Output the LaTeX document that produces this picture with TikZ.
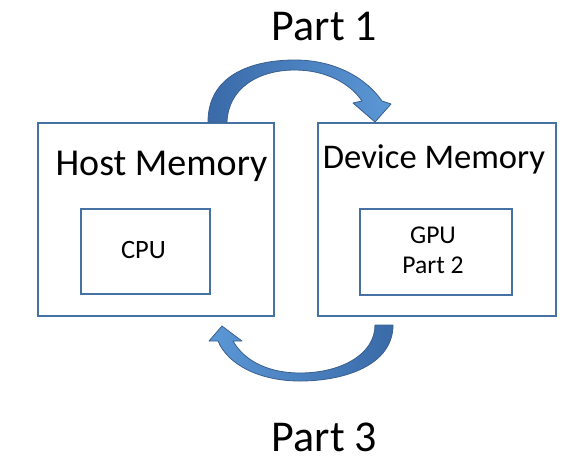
\documentclass[tikz,border=0pt]{standalone}
\usepackage{fontspec}
\setmainfont{Carlito}
\definecolor{boxblue}{HTML}{4672A3}
\definecolor{arrdark}{HTML}{3A6AA8}
\definecolor{arrlight}{HTML}{5B97D6}
\definecolor{arredge}{HTML}{3A5F8E}
\begin{document}
\begin{tikzpicture}[x=1pt,y=-1pt,
  boxline/.style={draw=boxblue,line width=2.2pt,inner sep=0pt},
  blockarrow/.style={draw=arredge,line width=0.8pt,line join=round},
  lbl/.style={anchor=base,inner sep=0pt,text=black}]
\useasboundingbox (0,0) rectangle (586,467);
% boxes
\node[boxline,anchor=north west,minimum width=236pt,minimum height=193pt] (host) at (37,122) {};
\node[boxline,anchor=north west,minimum width=238pt,minimum height=193pt] (device) at (317,122) {};
\node[boxline,anchor=north west,minimum width=129pt,minimum height=85pt] (cpu) at (80,208) {};
\node[boxline,anchor=north west,minimum width=152pt,minimum height=86pt] (gpu) at (359,208) {};
% labels
\node[lbl,font=\fontsize{38}{40}\selectfont] (hostlbl) at (161.5,175) {Host Memory};
\node[lbl,font=\fontsize{34.6}{36}\selectfont] (devlbl) at (434,168) {Device Memory};
\node[lbl,font=\fontsize{26.5}{28}\selectfont] (cpulbl) at (143.5,258) {CPU};
\node[lbl,font=\fontsize{25.6}{28}\selectfont] (gpulbl) at (433,243) {GPU};
\node[lbl,font=\fontsize{25.6}{28}\selectfont] (p2lbl) at (433,273) {Part 2};
\node[lbl,font=\fontsize{44}{46}\selectfont] (p1lbl) at (324.5,40) {Part 1};
\node[lbl,font=\fontsize{44}{46}\selectfont] (p3lbl) at (324.5,451.5) {Part 3};
% top curved arrow (Part 1)
\path[blockarrow,left color=arrdark,right color=arrlight]
  (208,122) .. controls (208,76) and (250,60) .. (295,60)
  .. controls (335,60) and (366,78) .. (382,101)
  -- (391,104) -- (375,122) -- (353,103) -- (362,101)
  .. controls (350,83) and (325,70) .. (295,70)
  .. controls (256,70) and (228,90) .. (227,122) -- cycle;
% bottom curved arrow (Part 3)
\path[blockarrow,left color=arrlight,right color=arrdark]
  (393,325) .. controls (393,365) and (345,381) .. (300,381)
  .. controls (260,381) and (228,365) .. (218,341)
  -- (209,341) -- (222,326) -- (242,341) -- (233,341)
  .. controls (245,362) and (270,373) .. (300,373)
  .. controls (340,373) and (375,355) .. (375,325) -- cycle;
\end{tikzpicture}
\end{document}
